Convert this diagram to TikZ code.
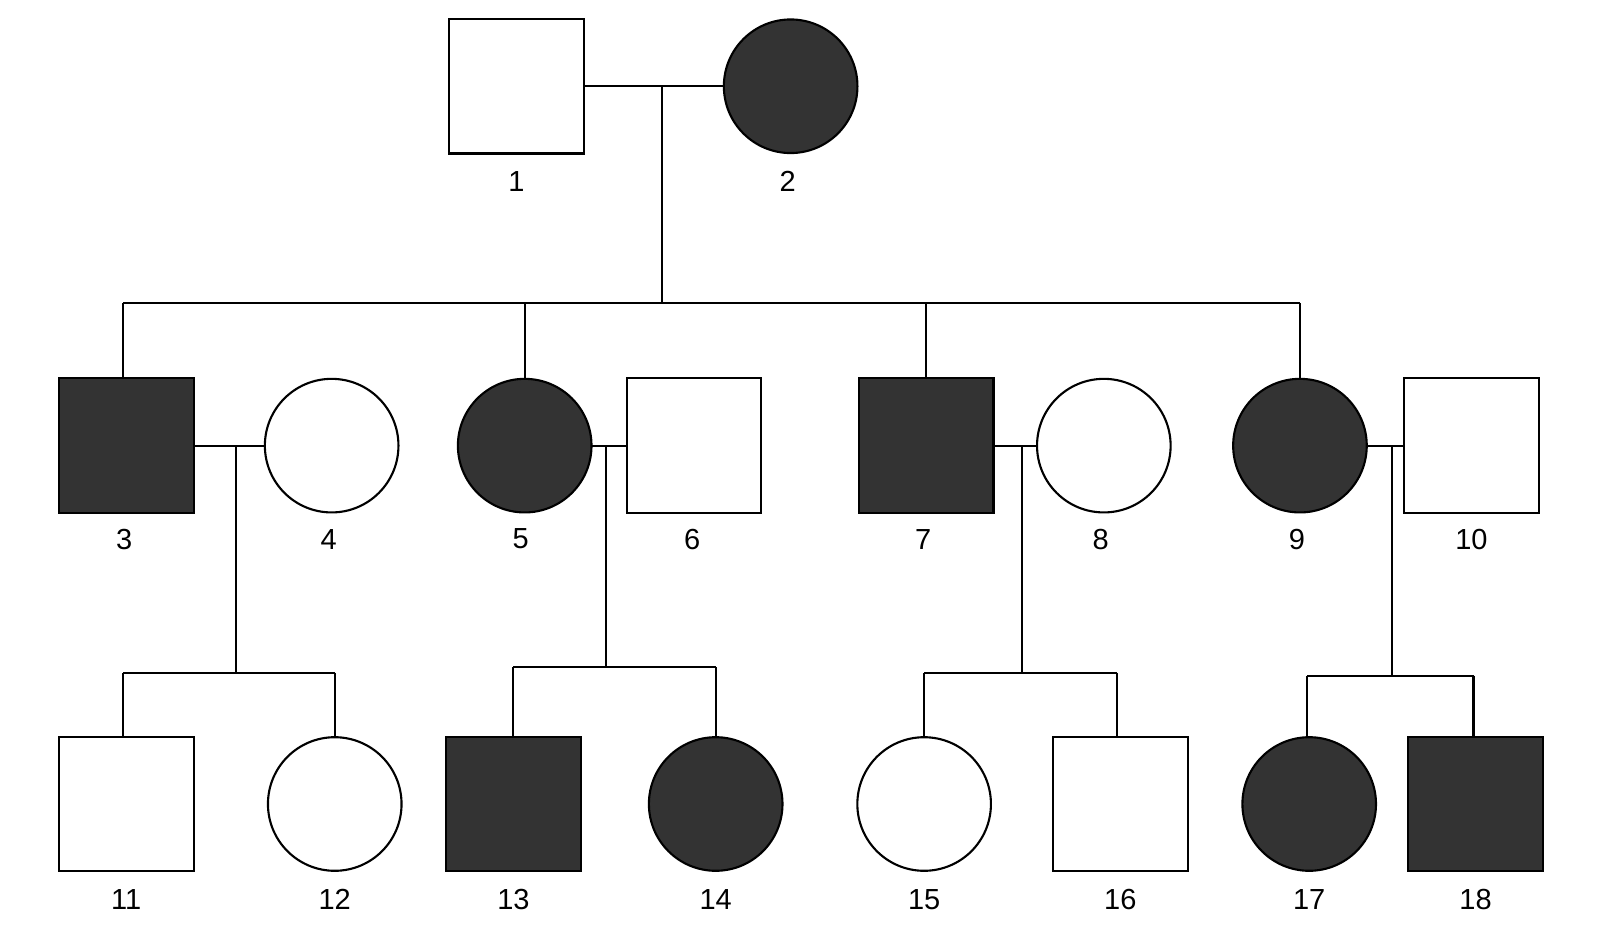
\documentclass[tikz,border=0pt]{standalone}
\usepackage{fontspec}
\setmainfont{Liberation Sans}
\begin{document}
\begin{tikzpicture}[x=0.02053cm,y=-0.02053cm,line width=1.2pt,
  m/.style={draw,minimum size=2.69cm,inner sep=0pt,outer sep=0pt},
  f/.style={draw,circle,minimum size=2.67cm,inner sep=0pt,outer sep=0pt},
  aff/.style={fill=black!80},
  lab/.style={font=\fontsize{16.5}{16.5}\selectfont}]
\useasboundingbox (0,0) rectangle (1566,912);
\def\L#1#2#3{\node[lab] at (#1,#2) {#3};}
% gen 1
\node[m] (n1) at (503,84) {}; \L{503}{177}{1}
\node[f,aff] (n2) at (770,84) {}; \L{767}{177}{2}
% gen 2
\node[m,aff] (n3) at (123,434) {}; \L{121}{525}{3}
\node[f] (n4) at (323,434) {}; \L{320}{525}{4}
\node[f,aff] (n5) at (511,434) {}; \L{507}{525}{5}
\node[m] (n6) at (676,434) {}; \L{674}{525}{6}
\node[m,aff] (n7) at (902,434) {}; \L{899}{525}{7}
\node[f] (n8) at (1075,434) {}; \L{1072}{525}{8}
\node[f,aff] (n9) at (1266,434) {}; \L{1263}{525}{9}
\node[m] (n10) at (1433,434) {}; \L{1433}{525}{10}
% gen 3
\node[m] (n11) at (123,783) {}; \L{123}{876}{11}
\node[f] (n12) at (326,783) {}; \L{326}{876}{12}
\node[m,aff] (n13) at (500,783) {}; \L{500}{876}{13}
\node[f,aff] (n14) at (697,783) {}; \L{697}{876}{14}
\node[f] (n15) at (900,783) {}; \L{900}{876}{15}
\node[m] (n16) at (1091,783) {}; \L{1091}{876}{16}
\node[f,aff] (n17) at (1275,783) {}; \L{1275}{876}{17}
\node[m,aff] (n18) at (1437,783) {}; \L{1437}{876}{18}
% couples
\draw (n1.east) -- (n2.west);
\draw (n3.east) -- (n4.west);
\draw (n5.east) -- (n6.west);
\draw (n7.east) -- (n8.west);
\draw (n9.east) -- (n10.west);
% gen1 -> gen2
\coordinate (c1) at (645,84);
\draw (c1) -- (645,295);
\draw (120,295) -- (1266,295);
\draw (120,295) -- (n3.north -| 120,0);
\draw (511,295) -- (n5.north);
\draw (902,295) -- (n7.north);
\draw (1266,295) -- (n9.north);
% gen2 -> gen3
\draw (230,434) -- (230,655) (120,655) -- (326,655);
\draw (120,655) -- (n11.north -| 120,0); \draw (326,655) -- (n12.north);
\draw (590,434) -- (590,650) (500,650) -- (697,650);
\draw (500,650) -- (n13.north); \draw (697,650) -- (n14.north);
\draw (995,434) -- (995,655) (900,655) -- (1088,655);
\draw (900,655) -- (n15.north); \draw (1088,655) -- (1088,718);
\draw (1356,434) -- (1356,658) (1273,658) -- (1435,658);
\draw (1273,658) -- (n17.north -| 1273,0); \draw (1435,658) -- (1435,718);
\end{tikzpicture}
\end{document}
